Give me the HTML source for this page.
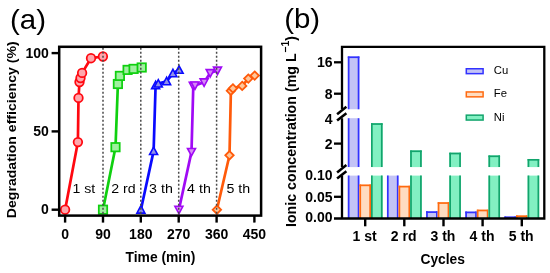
<!DOCTYPE html><html><head><meta charset="utf-8"><title>figure</title>
<style>html,body{margin:0;padding:0;background:#fff}svg{display:block}text{font-family:"Liberation Sans", sans-serif;fill:#000}.b{font-weight:bold}</style></head><body>
<svg width="550" height="273" viewBox="0 0 550 273">
<rect width="550" height="273" fill="#fff"/>
<text x="10" y="28.5" font-size="28" textLength="36" lengthAdjust="spacingAndGlyphs">(a)</text>
<polyline fill="none" stroke="#ff0810" stroke-width="2.7" stroke-linejoin="round" points="65.1,209.7 77.9,142.1 78.5,97.9 79.5,82.0 80.5,78.0 82.1,72.9 91.0,58.2 102.9,56.5"/>
<circle cx="65.1" cy="209.7" r="4.3" fill="#ffa6ac" stroke="#ff0810" stroke-width="1.75"/>
<circle cx="77.9" cy="142.1" r="4.3" fill="#ffa6ac" stroke="#ff0810" stroke-width="1.75"/>
<circle cx="78.5" cy="97.9" r="4.3" fill="#ffa6ac" stroke="#ff0810" stroke-width="1.75"/>
<circle cx="79.5" cy="82.0" r="4.3" fill="#ffa6ac" stroke="#ff0810" stroke-width="1.75"/>
<circle cx="80.5" cy="78.0" r="4.3" fill="#ffa6ac" stroke="#ff0810" stroke-width="1.75"/>
<circle cx="82.1" cy="72.9" r="4.3" fill="#ffa6ac" stroke="#ff0810" stroke-width="1.75"/>
<circle cx="91.0" cy="58.2" r="4.3" fill="#ffa6ac" stroke="#ff0810" stroke-width="1.75"/>
<circle cx="102.9" cy="56.5" r="4.3" fill="#ffa6ac" stroke="#ff0810" stroke-width="1.75"/>
<polyline fill="none" stroke="#10d010" stroke-width="2.7" stroke-linejoin="round" points="103.0,209.7 115.5,147.2 117.9,84.0 119.9,75.9 127.6,69.9 133.6,68.9 141.7,67.5"/>
<rect x="98.8" y="205.5" width="8.4" height="8.4" fill="#a0f0a0" stroke="#10d010" stroke-width="1.75"/>
<rect x="111.3" y="143.0" width="8.4" height="8.4" fill="#a0f0a0" stroke="#10d010" stroke-width="1.75"/>
<rect x="113.7" y="79.8" width="8.4" height="8.4" fill="#a0f0a0" stroke="#10d010" stroke-width="1.75"/>
<rect x="115.7" y="71.7" width="8.4" height="8.4" fill="#a0f0a0" stroke="#10d010" stroke-width="1.75"/>
<rect x="123.4" y="65.7" width="8.4" height="8.4" fill="#a0f0a0" stroke="#10d010" stroke-width="1.75"/>
<rect x="129.4" y="64.7" width="8.4" height="8.4" fill="#a0f0a0" stroke="#10d010" stroke-width="1.75"/>
<rect x="137.5" y="63.3" width="8.4" height="8.4" fill="#a0f0a0" stroke="#10d010" stroke-width="1.75"/>
<polyline fill="none" stroke="#0a0aff" stroke-width="2.7" stroke-linejoin="round" points="140.9,209.7 153.6,151.1 155.6,85.3 158.3,83.6 166.6,81.3 172.9,73.3 179.1,69.9"/>
<polygon points="140.9,205.7 136.9,213.1 144.9,213.1" fill="#9090e8" stroke="#0a0aff" stroke-width="1.6" stroke-linejoin="miter"/>
<polygon points="153.6,147.1 149.6,154.5 157.6,154.5" fill="#9090e8" stroke="#0a0aff" stroke-width="1.6" stroke-linejoin="miter"/>
<polygon points="155.6,81.3 151.6,88.7 159.6,88.7" fill="#9090e8" stroke="#0a0aff" stroke-width="1.6" stroke-linejoin="miter"/>
<polygon points="158.3,79.6 154.3,87.0 162.3,87.0" fill="#9090e8" stroke="#0a0aff" stroke-width="1.6" stroke-linejoin="miter"/>
<polygon points="166.6,77.3 162.6,84.7 170.6,84.7" fill="#9090e8" stroke="#0a0aff" stroke-width="1.6" stroke-linejoin="miter"/>
<polygon points="172.9,69.3 168.9,76.7 176.9,76.7" fill="#9090e8" stroke="#0a0aff" stroke-width="1.6" stroke-linejoin="miter"/>
<polygon points="179.1,65.9 175.1,73.3 183.1,73.3" fill="#9090e8" stroke="#0a0aff" stroke-width="1.6" stroke-linejoin="miter"/>
<polyline fill="none" stroke="#a00af5" stroke-width="2.7" stroke-linejoin="round" points="178.9,209.7 191.5,151.9 193.3,85.8 195.0,85.4 204.1,82.3 210.2,73.0 217.5,70.5"/>
<polygon points="178.9,213.7 174.9,206.3 182.9,206.3" fill="#d68af5" stroke="#a00af5" stroke-width="1.6" stroke-linejoin="miter"/>
<polygon points="191.5,155.9 187.5,148.5 195.5,148.5" fill="#d68af5" stroke="#a00af5" stroke-width="1.6" stroke-linejoin="miter"/>
<polygon points="193.3,89.8 189.3,82.4 197.3,82.4" fill="#d68af5" stroke="#a00af5" stroke-width="1.6" stroke-linejoin="miter"/>
<polygon points="195.0,89.4 191.0,82.0 199.0,82.0" fill="#d68af5" stroke="#a00af5" stroke-width="1.6" stroke-linejoin="miter"/>
<polygon points="204.1,86.3 200.1,78.9 208.1,78.9" fill="#d68af5" stroke="#a00af5" stroke-width="1.6" stroke-linejoin="miter"/>
<polygon points="210.2,77.0 206.2,69.6 214.2,69.6" fill="#d68af5" stroke="#a00af5" stroke-width="1.6" stroke-linejoin="miter"/>
<polygon points="217.5,74.5 213.5,67.1 221.5,67.1" fill="#d68af5" stroke="#a00af5" stroke-width="1.6" stroke-linejoin="miter"/>
<polyline fill="none" stroke="#ff5a0a" stroke-width="2.7" stroke-linejoin="round" points="216.9,209.7 229.5,155.3 230.9,90.8 232.9,88.4 242.2,85.9 248.3,78.6 254.7,75.6"/>
<polygon points="216.9,205.5 221.1,209.7 216.9,213.9 212.7,209.7" fill="#ffc79a" stroke="#ff5a0a" stroke-width="1.8"/>
<polygon points="229.5,151.1 233.7,155.3 229.5,159.5 225.3,155.3" fill="#ffc79a" stroke="#ff5a0a" stroke-width="1.8"/>
<polygon points="230.9,86.6 235.1,90.8 230.9,95.0 226.7,90.8" fill="#ffc79a" stroke="#ff5a0a" stroke-width="1.8"/>
<polygon points="232.9,84.2 237.1,88.4 232.9,92.6 228.7,88.4" fill="#ffc79a" stroke="#ff5a0a" stroke-width="1.8"/>
<polygon points="242.2,81.7 246.4,85.9 242.2,90.1 238.0,85.9" fill="#ffc79a" stroke="#ff5a0a" stroke-width="1.8"/>
<polygon points="248.3,74.4 252.5,78.6 248.3,82.8 244.1,78.6" fill="#ffc79a" stroke="#ff5a0a" stroke-width="1.8"/>
<polygon points="254.7,71.4 258.9,75.6 254.7,79.8 250.5,75.6" fill="#ffc79a" stroke="#ff5a0a" stroke-width="1.8"/>
<line x1="103.0" y1="47.8" x2="103.0" y2="214.6" stroke="#4a4a4a" stroke-width="1.5" stroke-dasharray="2 2"/>
<line x1="140.8" y1="47.8" x2="140.8" y2="214.6" stroke="#4a4a4a" stroke-width="1.5" stroke-dasharray="2 2"/>
<line x1="178.7" y1="47.8" x2="178.7" y2="214.6" stroke="#4a4a4a" stroke-width="1.5" stroke-dasharray="2 2"/>
<line x1="216.6" y1="47.8" x2="216.6" y2="214.6" stroke="#4a4a4a" stroke-width="1.5" stroke-dasharray="2 2"/>
<rect x="59.2" y="46.8" width="201.9" height="168.8" fill="none" stroke="#000" stroke-width="2.5"/>
<line x1="51.6" y1="209.7" x2="59.2" y2="209.7" stroke="#000" stroke-width="2.4"/>
<text class="b" x="48.9" y="214.3" font-size="14" text-anchor="end">0</text>
<line x1="51.6" y1="131.4" x2="59.2" y2="131.4" stroke="#000" stroke-width="2.4"/>
<text class="b" x="48.9" y="136.0" font-size="14" text-anchor="end">50</text>
<line x1="51.6" y1="53.1" x2="59.2" y2="53.1" stroke="#000" stroke-width="2.4"/>
<text class="b" x="48.9" y="57.7" font-size="14" text-anchor="end">100</text>
<line x1="65.1" y1="215.6" x2="65.1" y2="222.6" stroke="#000" stroke-width="2.4"/>
<text class="b" x="65.1" y="238.9" font-size="14" text-anchor="middle">0</text>
<line x1="103.0" y1="215.6" x2="103.0" y2="222.6" stroke="#000" stroke-width="2.4"/>
<text class="b" x="103.0" y="238.9" font-size="14" text-anchor="middle">90</text>
<line x1="140.8" y1="215.6" x2="140.8" y2="222.6" stroke="#000" stroke-width="2.4"/>
<text class="b" x="140.8" y="238.9" font-size="14" text-anchor="middle">180</text>
<line x1="178.7" y1="215.6" x2="178.7" y2="222.6" stroke="#000" stroke-width="2.4"/>
<text class="b" x="178.7" y="238.9" font-size="14" text-anchor="middle">270</text>
<line x1="216.6" y1="215.6" x2="216.6" y2="222.6" stroke="#000" stroke-width="2.4"/>
<text class="b" x="216.6" y="238.9" font-size="14" text-anchor="middle">360</text>
<line x1="254.4" y1="215.6" x2="254.4" y2="222.6" stroke="#000" stroke-width="2.4"/>
<text class="b" x="254.4" y="238.9" font-size="14" text-anchor="middle">450</text>
<text class="b" x="160.4" y="262" font-size="13.85" text-anchor="middle">Time (min)</text>
<text class="b" transform="translate(16.0,129.8) rotate(-90)" font-size="13.6" textLength="176.8" lengthAdjust="spacingAndGlyphs" text-anchor="middle">Degradation efficiency (%)</text>
<text x="72.4" y="192.8" font-size="13.2" textLength="22.8" lengthAdjust="spacingAndGlyphs">1 st</text>
<text x="111.2" y="192.8" font-size="13.2" textLength="24.4" lengthAdjust="spacingAndGlyphs">2 rd</text>
<text x="149.1" y="192.8" font-size="13.2" textLength="23.7" lengthAdjust="spacingAndGlyphs">3 th</text>
<text x="187.1" y="192.8" font-size="13.2" textLength="23.7" lengthAdjust="spacingAndGlyphs">4 th</text>
<text x="226.4" y="192.8" font-size="13.2" textLength="23.7" lengthAdjust="spacingAndGlyphs">5 th</text>
<text x="284.2" y="28.3" font-size="28" textLength="36" lengthAdjust="spacingAndGlyphs">(b)</text>
<rect x="347.80" y="175.60" width="11.60" height="42.90" fill="#c3c3f6"/>
<path d="M348.65 175.60V218.50M358.55 175.60V218.50" stroke="#3232ff" stroke-width="1.7" fill="none"/>
<rect x="347.80" y="118.20" width="11.60" height="48.90" fill="#c3c3f6"/>
<path d="M348.65 118.20V167.10M358.55 118.20V167.10" stroke="#3232ff" stroke-width="1.7" fill="none"/>
<rect x="347.80" y="56.40" width="11.60" height="52.80" fill="#c3c3f6"/>
<path d="M348.65 56.40V109.20M358.55 56.40V109.20" stroke="#3232ff" stroke-width="1.7" fill="none"/>
<path d="M347.80 57.25H359.40" stroke="#3232ff" stroke-width="1.7" fill="none"/>
<rect x="359.40" y="184.49" width="11.60" height="34.01" fill="#ffdcc0"/>
<path d="M360.25 184.49V218.50M370.15 184.49V218.50" stroke="#ff6a10" stroke-width="1.7" fill="none"/>
<path d="M359.40 185.34H371.00" stroke="#ff6a10" stroke-width="1.7" fill="none"/>
<rect x="371.00" y="175.60" width="11.60" height="42.90" fill="#82f0c2"/>
<path d="M371.85 175.60V218.50M381.75 175.60V218.50" stroke="#12a46c" stroke-width="1.7" fill="none"/>
<rect x="371.00" y="123.19" width="11.60" height="43.91" fill="#82f0c2"/>
<path d="M371.85 123.19V167.10M381.75 123.19V167.10" stroke="#12a46c" stroke-width="1.7" fill="none"/>
<path d="M371.00 124.04H382.60" stroke="#12a46c" stroke-width="1.7" fill="none"/>
<rect x="386.95" y="175.60" width="11.60" height="42.90" fill="#c3c3f6"/>
<path d="M387.80 175.60V218.50M397.70 175.60V218.50" stroke="#3232ff" stroke-width="1.7" fill="none"/>
<rect x="398.55" y="185.78" width="11.60" height="32.72" fill="#ffdcc0"/>
<path d="M399.40 185.78V218.50M409.30 185.78V218.50" stroke="#ff6a10" stroke-width="1.7" fill="none"/>
<path d="M398.55 186.63H410.15" stroke="#ff6a10" stroke-width="1.7" fill="none"/>
<rect x="410.15" y="175.60" width="11.60" height="42.90" fill="#82f0c2"/>
<path d="M411.00 175.60V218.50M420.90 175.60V218.50" stroke="#12a46c" stroke-width="1.7" fill="none"/>
<rect x="410.15" y="150.40" width="11.60" height="16.70" fill="#82f0c2"/>
<path d="M411.00 150.40V167.10M420.90 150.40V167.10" stroke="#12a46c" stroke-width="1.7" fill="none"/>
<path d="M410.15 151.25H421.75" stroke="#12a46c" stroke-width="1.7" fill="none"/>
<rect x="426.10" y="211.27" width="11.60" height="7.23" fill="#c3c3f6"/>
<path d="M426.95 211.27V218.50M436.85 211.27V218.50" stroke="#3232ff" stroke-width="1.7" fill="none"/>
<path d="M426.10 212.12H437.70" stroke="#3232ff" stroke-width="1.7" fill="none"/>
<rect x="437.70" y="202.20" width="11.60" height="16.30" fill="#ffdcc0"/>
<path d="M438.55 202.20V218.50M448.45 202.20V218.50" stroke="#ff6a10" stroke-width="1.7" fill="none"/>
<path d="M437.70 203.05H449.30" stroke="#ff6a10" stroke-width="1.7" fill="none"/>
<rect x="449.30" y="175.60" width="11.60" height="42.90" fill="#82f0c2"/>
<path d="M450.15 175.60V218.50M460.05 175.60V218.50" stroke="#12a46c" stroke-width="1.7" fill="none"/>
<rect x="449.30" y="152.67" width="11.60" height="14.43" fill="#82f0c2"/>
<path d="M450.15 152.67V167.10M460.05 152.67V167.10" stroke="#12a46c" stroke-width="1.7" fill="none"/>
<path d="M449.30 153.52H460.90" stroke="#12a46c" stroke-width="1.7" fill="none"/>
<rect x="465.25" y="211.57" width="11.60" height="6.93" fill="#c3c3f6"/>
<path d="M466.10 211.57V218.50M476.00 211.57V218.50" stroke="#3232ff" stroke-width="1.7" fill="none"/>
<path d="M465.25 212.42H476.85" stroke="#3232ff" stroke-width="1.7" fill="none"/>
<rect x="476.85" y="209.63" width="11.60" height="8.87" fill="#ffdcc0"/>
<path d="M477.70 209.63V218.50M487.60 209.63V218.50" stroke="#ff6a10" stroke-width="1.7" fill="none"/>
<path d="M476.85 210.48H488.45" stroke="#ff6a10" stroke-width="1.7" fill="none"/>
<rect x="488.45" y="175.60" width="11.60" height="42.90" fill="#82f0c2"/>
<path d="M489.30 175.60V218.50M499.20 175.60V218.50" stroke="#12a46c" stroke-width="1.7" fill="none"/>
<rect x="488.45" y="155.44" width="11.60" height="11.66" fill="#82f0c2"/>
<path d="M489.30 155.44V167.10M499.20 155.44V167.10" stroke="#12a46c" stroke-width="1.7" fill="none"/>
<path d="M488.45 156.29H500.05" stroke="#12a46c" stroke-width="1.7" fill="none"/>
<rect x="504.40" y="216.46" width="11.60" height="2.04" fill="#c3c3f6"/>
<path d="M505.25 216.46V218.50M515.15 216.46V218.50" stroke="#3232ff" stroke-width="1.7" fill="none"/>
<path d="M504.40 217.31H516.00" stroke="#3232ff" stroke-width="1.7" fill="none"/>
<rect x="516.00" y="215.38" width="11.60" height="3.12" fill="#ffdcc0"/>
<path d="M516.85 215.38V218.50M526.75 215.38V218.50" stroke="#ff6a10" stroke-width="1.7" fill="none"/>
<path d="M516.00 216.23H527.60" stroke="#ff6a10" stroke-width="1.7" fill="none"/>
<rect x="527.60" y="175.60" width="11.60" height="42.90" fill="#82f0c2"/>
<path d="M528.45 175.60V218.50M538.35 175.60V218.50" stroke="#12a46c" stroke-width="1.7" fill="none"/>
<rect x="527.60" y="158.97" width="11.60" height="8.13" fill="#82f0c2"/>
<path d="M528.45 158.97V167.10M538.35 158.97V167.10" stroke="#12a46c" stroke-width="1.7" fill="none"/>
<path d="M527.60 159.82H539.20" stroke="#12a46c" stroke-width="1.7" fill="none"/>
<path d="M342.0 109V46.9H544.3V218.5H334.0" fill="none" stroke="#000" stroke-width="2.3" stroke-linejoin="miter"/>
<path d="M342.0 118.2V167M342.0 175.6V218.5" fill="none" stroke="#000" stroke-width="2.3"/>
<line x1="337.1" y1="114.2" x2="346.4" y2="106.8" stroke="#000" stroke-width="2.5"/>
<line x1="337.1" y1="120.6" x2="346.4" y2="113.2" stroke="#000" stroke-width="2.5"/>
<line x1="337.1" y1="172.4" x2="346.4" y2="165.0" stroke="#000" stroke-width="2.5"/>
<line x1="337.1" y1="178.6" x2="346.4" y2="171.2" stroke="#000" stroke-width="2.5"/>
<line x1="334.0" y1="62.3" x2="342.0" y2="62.3" stroke="#000" stroke-width="2.3"/>
<line x1="334.0" y1="93.7" x2="342.0" y2="93.7" stroke="#000" stroke-width="2.3"/>
<line x1="334.0" y1="143.6" x2="342.0" y2="143.6" stroke="#000" stroke-width="2.3"/>
<line x1="334.0" y1="196.8" x2="342.0" y2="196.8" stroke="#000" stroke-width="2.3"/>
<text class="b" x="332.5" y="67.3" font-size="14" text-anchor="end">16</text>
<text class="b" x="332.5" y="98.7" font-size="14" text-anchor="end">8</text>
<text class="b" x="332.5" y="124.0" font-size="14" text-anchor="end">4</text>
<text class="b" x="332.5" y="148.6" font-size="14" text-anchor="end">2</text>
<text class="b" x="332.5" y="179.7" font-size="14" text-anchor="end">0.10</text>
<text class="b" x="332.5" y="201.8" font-size="14" text-anchor="end">0.05</text>
<text class="b" x="332.5" y="222.4" font-size="14" text-anchor="end">0.00</text>
<line x1="365.2" y1="218.5" x2="365.2" y2="226.3" stroke="#000" stroke-width="2.4"/>
<text class="b" x="364.6" y="240.8" font-size="14" text-anchor="middle">1 st</text>
<line x1="404.3" y1="218.5" x2="404.3" y2="226.3" stroke="#000" stroke-width="2.4"/>
<text class="b" x="403.7" y="240.8" font-size="14" text-anchor="middle">2 rd</text>
<line x1="443.5" y1="218.5" x2="443.5" y2="226.3" stroke="#000" stroke-width="2.4"/>
<text class="b" x="442.9" y="240.8" font-size="14" text-anchor="middle">3 th</text>
<line x1="482.6" y1="218.5" x2="482.6" y2="226.3" stroke="#000" stroke-width="2.4"/>
<text class="b" x="482.0" y="240.8" font-size="14" text-anchor="middle">4 th</text>
<line x1="521.8" y1="218.5" x2="521.8" y2="226.3" stroke="#000" stroke-width="2.4"/>
<text class="b" x="521.2" y="240.8" font-size="14" text-anchor="middle">5 th</text>
<text class="b" x="442.7" y="264.1" font-size="13.8" text-anchor="middle">Cycles</text>
<text id="ylb" class="b" transform="translate(295.8,227) rotate(-90)" font-size="14.3" textLength="191" lengthAdjust="spacingAndGlyphs">Ionic concentration (mg L<tspan font-size="10.5" dy="-7" dx="0.8">−1</tspan><tspan dy="7">)</tspan></text>
<rect x="466.3" y="68.75" width="16.8" height="4.9" fill="#c3c3f6" stroke="#3232ff" stroke-width="1.5"/>
<text x="493.8" y="74.1" font-size="11.3">Cu</text>
<rect x="466.3" y="91.95" width="16.8" height="4.9" fill="#ffdcc0" stroke="#ff6a10" stroke-width="1.5"/>
<text x="493.8" y="97.3" font-size="11.3">Fe</text>
<rect x="466.3" y="115.15" width="16.8" height="4.9" fill="#82f0c2" stroke="#12a46c" stroke-width="1.5"/>
<text x="493.8" y="120.5" font-size="11.3">Ni</text>
</svg></body></html>
